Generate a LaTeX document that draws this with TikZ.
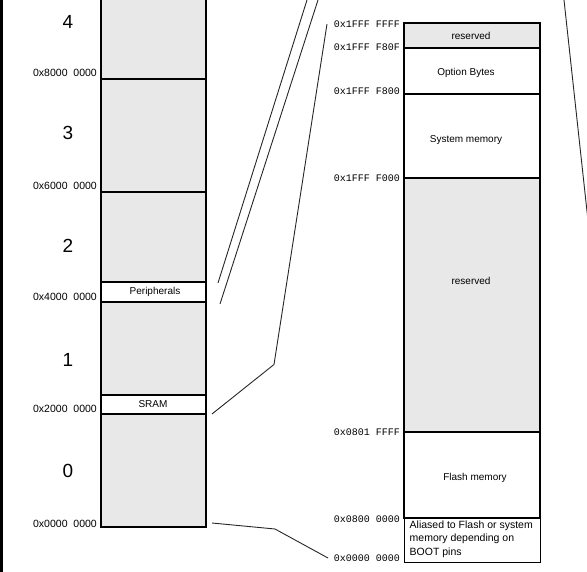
\documentclass[tikz,border=0pt]{standalone}
\usepackage{fontspec}
\setmainfont{Liberation Sans}
\newfontfamily\addrmono{Liberation Mono}
\definecolor{memgray}{HTML}{E8E8E8}
\tikzset{
  blk/.style={draw=black, line width=2pt, inner sep=0pt, outer sep=0pt, anchor=north west},
  thinblk/.style={draw=black, line width=1pt, inner sep=0pt, outer sep=0pt, anchor=north west},
  region/.style={font=\fontsize{19}{22}\selectfont},
  laddr/.style={anchor=east, inner sep=0pt, font=\fontsize{10.5}{12}\selectfont},
  raddr/.style={anchor=east, inner sep=0pt, font=\addrmono\fontsize{10}{12}\selectfont},
  blabel/.style={inner sep=0pt, font=\fontsize{10}{12}\selectfont},
  conn/.style={draw=black!85, line width=0.9pt},
}
\begin{document}
\begin{tikzpicture}[x=1pt,y=-1pt]
\useasboundingbox (0,0) rectangle (587,572);
\clip (0,0) rectangle (587,572);
% left border
\draw[line width=3pt] (1.5,-5) -- (1.5,580);
% left column
\node[blk, fill=memgray, minimum width=105pt, minimum height=89pt] (r4) at (101,-10) {};
\node[blk, fill=memgray, minimum width=105pt, minimum height=113pt] (r3) at (101,79) {};
\node[blk, fill=memgray, minimum width=105pt, minimum height=90pt] (r2) at (101,192) {};
\node[blk, fill=white, minimum width=105pt, minimum height=20pt] (periph) at (101,282) {};
\node[blk, fill=memgray, minimum width=105pt, minimum height=93pt] (r1) at (101,302) {};
\node[blk, fill=white, minimum width=105pt, minimum height=19pt] (sram) at (101,395) {};
\node[blk, fill=memgray, minimum width=105pt, minimum height=113pt] (r0) at (101,414) {};
\node[blabel] (tperiph) at (155,292) {Peripherals};
\node[blabel] (tsram) at (153,404.5) {SRAM};
% region numbers
\node[region] (n4) at (68,22) {4};
\node[region] (n3) at (68,133) {3};
\node[region] (n2) at (68,246) {2};
\node[region] (n1) at (68,360) {1};
\node[region] (n0) at (68,471) {0};
% left addresses
\node[laddr] (a8) at (97,73) {0x8000\ \ 0000};
\node[laddr] (a6) at (97,186) {0x6000\ \ 0000};
\node[laddr] (a4) at (97,297) {0x4000\ \ 0000};
\node[laddr] (a2) at (97,409) {0x2000\ \ 0000};
\node[laddr] (a0) at (97,524) {0x0000\ \ 0000};
% right column
\node[blk, fill=memgray, minimum width=136pt, minimum height=25pt] (res1) at (404,23) {};
\node[blk, fill=white, minimum width=136pt, minimum height=46pt] (opt) at (404,48) {};
\node[blk, fill=white, minimum width=136pt, minimum height=84pt] (sys) at (404,94) {};
\node[blk, fill=memgray, minimum width=136pt, minimum height=254pt] (res2) at (404,178) {};
\node[blk, fill=white, minimum width=136pt, minimum height=86pt] (flash) at (404,432) {};
\node[thinblk, fill=white, minimum width=136pt, minimum height=44pt] (alias) at (404,518) {};
\node[blabel] (tres1) at (471,35.5) {reserved};
\node[blabel] (topt) at (466,73) {Option Bytes};
\node[blabel] (tsys) at (466,140) {System memory};
\node[blabel] (tres2) at (471,281) {reserved};
\node[blabel] (tflash) at (475,478) {Flash memory};
\node[inner sep=0pt, anchor=north west, align=left, font=\fontsize{10.5}{13.5}\selectfont] (talias) at (409.5,520.5) {Aliased to Flash or system\\memory depending on\\BOOT pins};
% right addresses
\node[raddr] (b1) at (400,24) {0x1FFF FFFF};
\node[raddr] (b2) at (400,47) {0x1FFF F80F};
\node[raddr] (b3) at (400,91) {0x1FFF F800};
\node[raddr] (b4) at (400,178) {0x1FFF F000};
\node[raddr] (b5) at (400,432) {0x0801 FFFF};
\node[raddr] (b6) at (400,519) {0x0800 0000};
\node[raddr] (b7) at (400,558) {0x0000 0000};
% connector coordinates
\coordinate (c1a) at (218,283);
\coordinate (c1b) at (307,0);
\coordinate (c2a) at (220,304);
\coordinate (c2b) at (318,0);
\coordinate (c3a) at (212,414);
\coordinate (c3m) at (274,364.5);
\coordinate (c3b) at (327,24);
\coordinate (c4a) at (212,523);
\coordinate (c4m) at (275,529);
\coordinate (c4b) at (328,558);
\coordinate (c5a) at (564,0);
\coordinate (c5b) at (587.5,216);
\draw[conn] (c1a) -- (c1b);
\draw[conn] (c2a) -- (c2b);
\draw[conn] (c3a) -- (c3m) -- (c3b);
\draw[conn] (c4a) -- (c4m) -- (c4b);
\draw[conn] (c5a) -- (c5b);
\end{tikzpicture}
\end{document}
